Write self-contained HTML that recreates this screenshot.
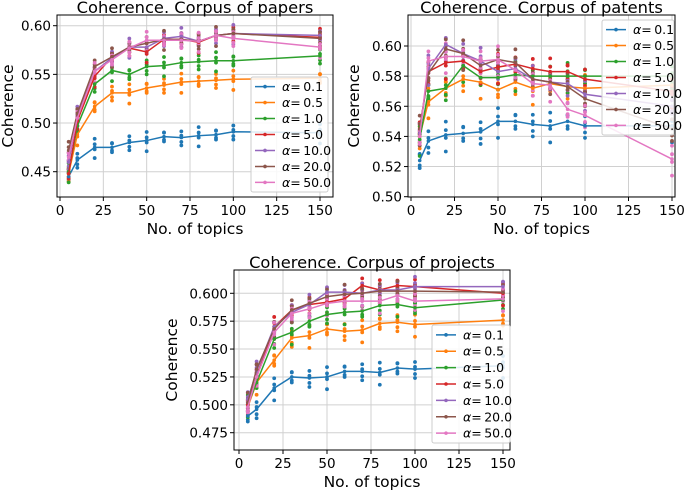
<!DOCTYPE html>
<html><head><meta charset="utf-8"><style>
body{margin:0;background:#fff;width:685px;height:490px;overflow:hidden;font-family:"DejaVu Sans","Liberation Sans",sans-serif}
svg{position:absolute;left:0;top:0}
</style></head><body>
<svg id="s" width="685" height="490"></svg>
<script>
const topics=[5,10,20,30,40,50,60,70,80,90,100,150];
const alphaLabels=["0.1","0.5","1.0","5.0","10.0","20.0","50.0"];
const colors=["#1f77b4","#ff7f0e","#2ca02c","#d62728","#9467bd","#8c564b","#e377c2"];
const spread=[-0.005,-0.002,0.002,0.004];
const papers=[
[.445,.462,.475,.475,.480,.482,.486,.485,.487,.488,.491,.490],
[.448,.488,.517,.531,.531,.536,.539,.542,.543,.544,.545,.546],
[.450,.497,.540,.554,.550,.558,.559,.562,.563,.564,.564,.569],
[.448,.502,.548,.568,.577,.573,.586,.586,.583,.590,.592,.588],
[.460,.508,.553,.567,.578,.578,.587,.589,.584,.590,.592,.590],
[.472,.510,.558,.568,.578,.582,.586,.586,.584,.590,.592,.587],
[.465,.505,.553,.565,.577,.585,.585,.585,.584,.590,.587,.578]];
const patents=[
[.524,.537,.541,.542,.543,.550,.550,.548,.547,.550,.547,.547],
[.540,.563,.572,.578,.576,.571,.576,.572,.575,.573,.572,.574],
[.538,.570,.572,.587,.579,.579,.581,.580,.580,.580,.580,.580],
[.545,.583,.589,.590,.583,.586,.588,.585,.583,.583,.578,.570],
[.542,.585,.601,.595,.590,.583,.585,.578,.576,.575,.568,.560],
[.545,.582,.598,.595,.587,.591,.589,.578,.576,.573,.565,.545],
[.540,.590,.593,.593,.590,.591,.584,.575,.574,.558,.554,.525]];
const projects=[
[.490,.496,.515,.525,.524,.525,.530,.530,.529,.533,.532,.535],
[.498,.520,.540,.560,.562,.568,.566,.567,.573,.574,.572,.576],
[.500,.520,.559,.565,.575,.581,.583,.584,.589,.590,.587,.594],
[.500,.525,.570,.585,.590,.592,.595,.607,.603,.607,.606,.600],
[.505,.530,.570,.583,.590,.601,.601,.600,.603,.603,.606,.606],
[.502,.532,.568,.585,.591,.597,.599,.600,.602,.602,.602,.601],
[.498,.525,.565,.582,.586,.591,.593,.593,.593,.598,.593,.595]];
const xTicks=[0,25,50,75,100,125,150];
const yTicksPapers=[0.45,0.50,0.55,0.60];
const yTicksPatents=[0.50,0.52,0.54,0.56,0.58,0.60];
const yTicksProjects=[0.475,0.500,0.525,0.550,0.575,0.600];
const NS="http://www.w3.org/2000/svg";
const svg=document.getElementById('s');
function mk(t,a,p){const e=document.createElementNS(NS,t);for(const k in a)e.setAttribute(k,a[k]);(p||svg).appendChild(e);return e;}
function plot(o){
 const g=mk('g',{});
 
 
 const X=v=>o.x0+(v-0)*(o.x150-o.x0)/150;
 const Y=v=>o.yA+(v-o.vA)*(o.yB-o.yA)/(o.vB-o.vA);
 xTicks.forEach(t=>{
  mk('line',{x1:X(t),x2:X(t),y1:o.top,y2:o.bot,stroke:'#d0d0d0','stroke-width':1},g);
  mk('line',{x1:X(t),x2:X(t),y1:o.bot,y2:o.bot+4,stroke:'#000'},g);
  const tx=mk('text',{x:X(t),y:o.bot+18,'text-anchor':'middle','font-size':13.5},g);tx.textContent=t;
  
  
 });
 o.yt.forEach(t=>{
  mk('line',{x1:o.left,x2:o.right,y1:Y(t),y2:Y(t),stroke:'#d0d0d0','stroke-width':1},g);
  mk('line',{x1:o.left-4,x2:o.left,y1:Y(t),y2:Y(t),stroke:'#000'},g);
  const tx=mk('text',{x:o.left-6,y:Y(t)+5,'text-anchor':'end','font-size':13.5},g);tx.textContent=t.toFixed(o.dec);
  
  
 });
 o.data.forEach((ser,i)=>{
  ser.forEach((v,j)=>spread.forEach((d,k)=>{
   const dd=d*(1+((i+j+k)%3)*0.6);
   mk('circle',{cx:X(topics[j]),cy:Y(v+dd),r:1.9,fill:colors[i]},g);
  }));
 });
 o.data.forEach((ser,i)=>{
  const pl=mk('polyline',{points:ser.map((v,j)=>X(topics[j])+','+Y(v)).join(' '),fill:'none',stroke:colors[i],'stroke-width':1.5},g);
  
  
  ser.forEach((v,j)=>mk('circle',{cx:X(topics[j]),cy:Y(v),r:1.8,fill:colors[i]},g));
 });
 mk('rect',{x:o.left,y:o.top,width:o.right-o.left,height:o.bot-o.top,fill:'none',stroke:'#000','stroke-width':1},g);
 const ti=mk('text',{x:(o.left+o.right)/2,y:o.top-2,'text-anchor':'middle','font-size':16.3},g);ti.textContent=o.title;
 
 
 const xl=mk('text',{x:(o.left+o.right)/2,y:o.bot+37,'text-anchor':'middle','font-size':15.5},g);xl.textContent='No. of topics';
 
 
 const yx=o.left-o.yo,yy=(o.top+o.bot)/2;
 const yl=mk('text',{x:yx,y:yy,'text-anchor':'middle','font-size':15.5,transform:`rotate(-90 ${yx} ${yy})`},g);yl.textContent='Coherence';
 
 
 const L=o.leg;
 const lg=mk('g',{},g);
 
 
 mk('rect',{x:L.x,y:L.y,width:L.w,height:L.h,fill:'#fff','fill-opacity':0.85,stroke:'#ccc',rx:2},lg);
 const sp=L.h/7.2;
 alphaLabels.forEach((a,i)=>{
  const cy=L.y+sp*(i+0.6);
  mk('line',{x1:L.x+4,x2:L.x+24,y1:cy,y2:cy,stroke:colors[i],'stroke-width':1.5},lg);
  mk('circle',{cx:L.x+14,cy:cy,r:1.8,fill:colors[i]},lg);
  const t=mk('text',{x:L.x+31,y:cy+4.5,'font-size':12.5},lg);
  t.innerHTML='<tspan font-style="italic">α</tspan>=\u2009'+a;
  
  
 });
}
plot({name:'papers-chart',title:'Coherence. Corpus of papers',data:papers,yt:yTicksPapers,dec:2,yo:44,left:57,right:333,top:15,bot:197,x0:60,x150:320,vA:0.60,yA:25.7,vB:0.45,yB:171.7,leg:{x:251,y:77,w:77,h:115}});
plot({name:'patents-chart',title:'Coherence. Corpus of patents',data:patents,yt:yTicksPatents,dec:2,yo:49,left:408,right:675,top:15,bot:197,x0:411,x150:672,vA:0.60,yA:46,vB:0.50,yB:196.7,leg:{x:602,y:20,w:72,h:115}});
plot({name:'projects-chart',title:'Coherence. Corpus of projects',data:projects,yt:yTicksProjects,dec:3,yo:57,left:234,right:510,top:270,bot:450,x0:239,x150:503,vA:0.600,yA:293.3,vB:0.475,yB:432.7,leg:{x:432,y:325,w:78,h:118}});
</script>
</body></html>
